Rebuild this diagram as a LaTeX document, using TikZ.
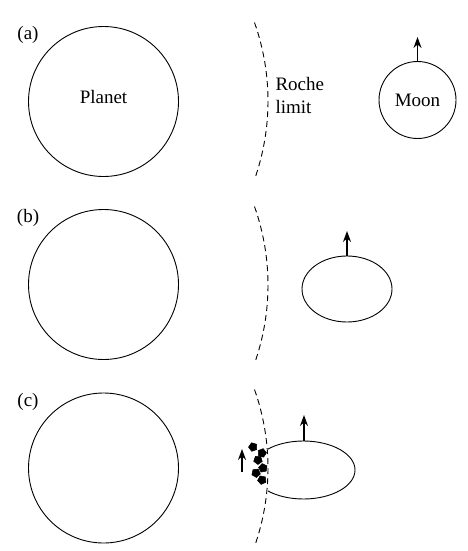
\documentclass[tikz,border=0pt]{standalone}
\usepackage{fontspec}
\setmainfont{Liberation Serif}
\usetikzlibrary{shapes.geometric,arrows.meta}
\tikzset{
  body/.style={draw, circle, line width=0.9pt, inner sep=0pt},
  planet/.style={body, minimum size=150pt},
  oval/.style={draw, ellipse, line width=0.9pt, inner sep=0pt},
  roche/.style={line width=0.9pt, dash pattern=on 6pt off 4pt},
  motion/.style={line width=1.4pt, -{Stealth[length=11pt,width=8pt]}},
  lbl/.style={font=\fontsize{19}{23}\selectfont},
  frag/.style={fill=black, draw=black, line width=0.5pt, minimum size=9pt, inner sep=0pt, regular polygon, regular polygon sides=5}
}
\begin{document}
\begin{tikzpicture}[x=1pt,y=-1pt]
\useasboundingbox (0,0) rectangle (468,551);
% (a)
\node[lbl] (la) at (28,35) {(a)};
\node[planet] (pa) at (103.5,101.5) {};
\node[lbl] (planettext) at (103.5,97) {Planet};
\draw[roche] ([shift={(33,101)}]-19.5:235) arc[start angle=-19.5,end angle=19.5,radius=235];
\node[lbl, align=left, anchor=west] (rl) at (272,96) {Roche\\limit};
\node[body, minimum size=77pt, lbl] (moona) at (417.5,100) {Moon};
\coordinate (ta) at (417.5,37);
\draw[motion] (moona.north) -- (ta);
% (b)
\node[lbl] (lb) at (28,218) {(b)};
\node[planet] (pb) at (103.5,284.5) {};
\draw[roche] ([shift={(33,285)}]-19.5:235) arc[start angle=-19.5,end angle=19.5,radius=235];
\node[oval, minimum width=90pt, minimum height=66pt] (moonb) at (347,289) {};
\coordinate (tb) at (347,231);
\draw[motion] (moonb.north) -- (tb);
% (c)
\node[lbl] (lc) at (28,402) {(c)};
\node[planet] (pc) at (103.5,468) {};
\draw[roche] ([shift={(33,468)}]-19.5:235) arc[start angle=-19.5,end angle=19.5,radius=235];
\begin{scope}
\clip (268,380) rectangle (468,551);
\node[oval, minimum width=103pt, minimum height=58pt] (moonc) at (303.5,470) {};
\end{scope}
\coordinate (tc) at (304,415);
\draw[motion] (304,441) -- (tc);
\coordinate (fa) at (242,472);
\coordinate (fb) at (242,449);
\draw[motion] (fa) -- (fb);
\node[frag, rotate=20] (f1) at (253,447) {};
\node[frag, rotate=-15] (f2) at (262,453) {};
\node[frag, rotate=35] (f3) at (258,460) {};
\node[frag, rotate=10] (f4) at (263,468) {};
\node[frag, rotate=-30] (f5) at (256,473) {};
\node[frag, rotate=25] (f6) at (262,480) {};
\end{tikzpicture}
\end{document}
